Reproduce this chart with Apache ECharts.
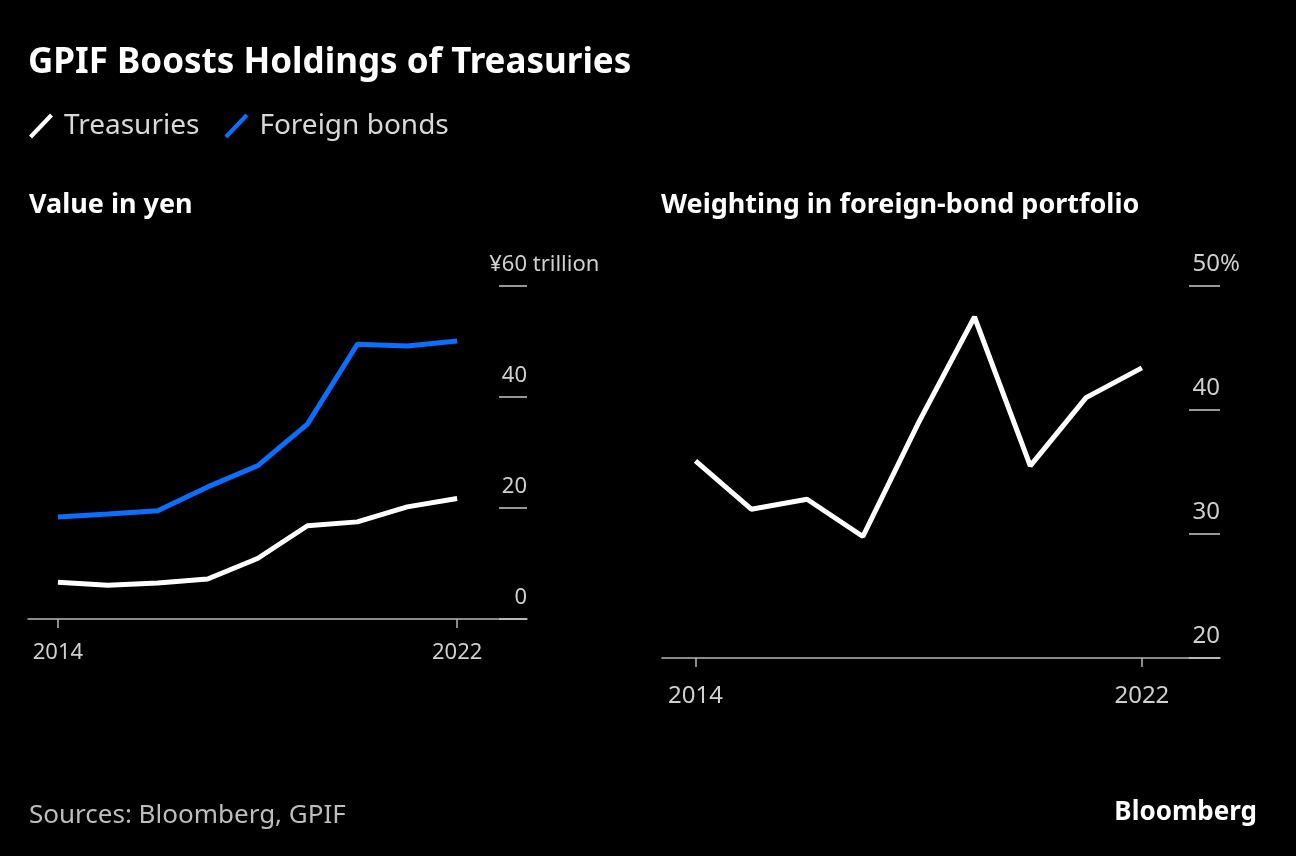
<!DOCTYPE html>
<html>
<head>
<meta charset="utf-8">
<script src="https://cdn.jsdelivr.net/npm/echarts@6/dist/echarts.min.js"></script>
<style>
html,body{margin:0;padding:0;background:#000;}
#chart{width:1296px;height:856px;}
</style>
</head>
<body>
<div id="chart"></div>
<script>
// ---- data ----
var years = [2014, 2015, 2016, 2017, 2018, 2019, 2020, 2021, 2022];
var treasuriesValue = [6.6, 6.1, 6.5, 7.2, 10.9, 16.8, 17.5, 20.2, 21.7];   // ¥ trillion
var foreignBondsValue = [18.4, 18.9, 19.5, 23.8, 27.6, 35.1, 49.5, 49.2, 50.1]; // ¥ trillion
var treasuriesWeight = [35.9, 32.0, 32.8, 29.8, 39.0, 47.5, 35.5, 41.0, 43.4]; // % of foreign-bond portfolio
var xTickYears = [2014, 2022];
var leftYTicks = [0, 20, 40, 60];
var rightYTicks = [20, 30, 40, 50];

function pairs(xs, ys) { return xs.map(function (x, i) { return [x, ys[i]]; }); }

var FONT = '"Noto Sans", "Open Sans", sans-serif';
var LABEL = '#d0d0d0';
var WHITE = '#ffffff';
var BLUE = '#0a6eff';

var chart = echarts.init(document.getElementById('chart'), null, {renderer: 'canvas'});

function xAxisCfg(gridIndex, margin, fs) {
  return {
    type: 'value', gridIndex: gridIndex, min: 2013.4, max: 2023.4,
    axisLine: {show: true, lineStyle: {color: '#b8b8b8', width: 1.5}},
    axisTick: {show: true, length: 9, customValues: xTickYears, lineStyle: {color: '#b8b8b8', width: 1.5}},
    axisLabel: {show: true, customValues: xTickYears, margin: margin, color: LABEL, fontFamily: FONT, fontSize: fs,
      formatter: function (v) { return String(v); }},
    splitLine: {show: false}
  };
}
function yAxisCfg(gridIndex, min, max, interval, tickLen, topHead, topTail, fs) {
  return {
    type: 'value', gridIndex: gridIndex, position: 'right', min: min, max: max, interval: interval,
    axisLine: {show: false},
    axisTick: {show: true, inside: true, length: tickLen, lineStyle: {color: '#c8c8c8', width: 1.5}},
    splitLine: {show: false},
    axisLabel: {
      show: true, inside: true, margin: 0, color: LABEL, fontFamily: FONT, fontSize: fs,
      verticalAlign: 'bottom', padding: [0, 0, 10, 0],
      formatter: function (v) { return v === max ? '{a|' + topHead + '}{t|' + topTail + '}' : String(v); },
      rich: {
        a: {align: 'left', color: LABEL, fontFamily: FONT, fontSize: fs},
        t: {align: 'left', width: 0, color: LABEL, fontFamily: FONT, fontSize: fs}
      }
    }
  };
}

var option = {
  backgroundColor: '#000',
  animation: false,
  title: [
    {text: 'GPIF Boosts Holdings of Treasuries', left: 28, top: 46, padding: 0,
      textStyle: {color: WHITE, fontFamily: FONT, fontWeight: 'bold', fontSize: 35}},
    {text: 'Value in yen', left: 29, top: 192, padding: 0,
      textStyle: {color: WHITE, fontFamily: FONT, fontWeight: 'bold', fontSize: 27}},
    {text: 'Weighting in foreign-bond portfolio', left: 661, top: 192, padding: 0,
      textStyle: {color: WHITE, fontFamily: FONT, fontWeight: 'bold', fontSize: 27}},
    {text: 'Sources: Bloomberg, GPIF', left: 29, top: 803, padding: 0,
      textStyle: {color: '#bdbdbd', fontFamily: FONT, fontWeight: 'normal', fontSize: 26}},
    {text: 'Bloomberg', right: 39, top: 800, padding: 0,
      textStyle: {color: WHITE, fontFamily: FONT, fontWeight: 'bold', fontSize: 26}}
  ],
  legend: {
    left: 29, top: 112, padding: 0, itemGap: 25, itemWidth: 24, itemHeight: 25,
    data: [
      {name: 'Treasuries', icon: 'path://M0,22 L3,25 L24,3 L21,0 Z', itemStyle: {color: WHITE}},
      {name: 'Foreign bonds', icon: 'path://M0,22 L3,25 L24,3 L21,0 Z', itemStyle: {color: BLUE}}
    ],
    textStyle: {color: '#d8d8d8', fontFamily: FONT, fontSize: 28, padding: [0, 0, 0, 6]},
    selectedMode: false
  },
  grid: [
    {left: 28, right: 769, top: 286, bottom: 237},
    {left: 662, right: 76, top: 286, bottom: 198}
  ],
  xAxis: [xAxisCfg(0, 23, 22), xAxisCfg(1, 26, 24)],
  yAxis: [
    yAxisCfg(0, 0, 60, 20, 28, '¥60', ' trillion', 22),
    yAxisCfg(1, 20, 50, 10, 31, '50', '%', 24)
  ],
  series: [
    {name: 'Treasuries', type: 'line', xAxisIndex: 0, yAxisIndex: 0, data: pairs(years, treasuriesValue),
      showSymbol: false, lineStyle: {color: WHITE, width: 5}, itemStyle: {color: WHITE}},
    {name: 'Foreign bonds', type: 'line', xAxisIndex: 0, yAxisIndex: 0, data: pairs(years, foreignBondsValue),
      showSymbol: false, lineStyle: {color: BLUE, width: 5}, itemStyle: {color: BLUE}},
    {name: 'Treasuries weighting', type: 'line', xAxisIndex: 1, yAxisIndex: 1, data: pairs(years, treasuriesWeight),
      showSymbol: false, lineStyle: {color: WHITE, width: 5}, itemStyle: {color: WHITE}}
  ]
};
chart.setOption(option);
</script>
</body>
</html>
